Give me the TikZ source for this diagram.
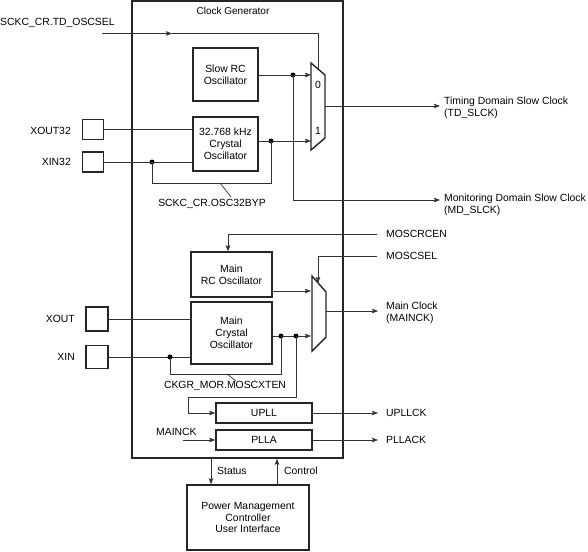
\documentclass[tikz,border=0pt]{standalone}
\usepackage{fontspec}
\setmainfont{Liberation Sans}
\usetikzlibrary{arrows.meta}
\newcommand\dfont{\fontsize{10.4}{12}\selectfont}
\begin{document}
\begin{tikzpicture}[x=1pt,y=-1pt,
  box/.style={draw=black!85,line width=1.4pt,inner sep=0pt,align=center,font=\dfont},
  pad/.style={draw=black!85,line width=1.4pt,inner sep=0pt},
  lbl/.style={inner sep=0pt,font=\dfont,align=left},
  wire/.style={draw=black!80,line width=0.7pt},
  arr/.style={wire,-{Stealth[length=6pt,width=4.5pt,inset=1pt]}},
  dot/.style={circle,fill=black,inner sep=0pt,minimum size=5pt}]
\useasboundingbox (0,0) rectangle (588,551);

% Clock generator frame
\node[box,minimum width=211pt,minimum height=457pt] (cg) at (237.5,229.5) {};
\node[lbl,font=\fontsize{10}{12}\selectfont] (cgt) at (233,11) {Clock Generator};

% slow part
\node[box,minimum width=65pt,minimum height=53pt] (src) at (225.5,74.5) {Slow RC\\Oscillator};
\node[box,minimum width=65pt,minimum height=54pt] (c32) at (225.5,144) {32.768 kHz\\Crystal\\Oscillator};
\node[pad,minimum width=21pt,minimum height=20pt] (x32o) at (93,129.5) {};
\node[pad,minimum width=21pt,minimum height=20pt] (x32i) at (93,162) {};
\node[lbl,anchor=east] (lx32o) at (71,131) {XOUT32};
\node[lbl,anchor=east] (lx32i) at (71,162) {XIN32};

% mux 1
\draw[draw=black!85,line width=1.4pt] (311,63) -- (325,75) -- (325,138) -- (311,150) -- cycle;
\node[lbl] (m1z) at (318,85) {0};
\node[lbl] (m1o) at (318,131) {1};
\coordinate (m1in0) at (311,75);
\coordinate (m1in1) at (311,141);
\coordinate (m1sel) at (318,69);
\coordinate (m1out) at (325,106);

\node[lbl,anchor=west] (ltd) at (0,23) {SCKC\_CR.TD\_OSCSEL};
\coordinate (tdstart) at (102,33.5);
\coordinate (tdmid) at (172,33.5);
\coordinate (tdcorner) at (318,33.5);
\draw[arr] (tdstart) -- (tdmid);
\draw[wire] (tdmid) -- (tdcorner) -- (m1sel);

\node[dot] (d3) at (293,75) {};
\node[dot] (d2) at (271,141) {};
\node[dot] (d1) at (152,162) {};
\draw[wire] (x32o.east) -- (c32.west |- x32o.east);
\draw[wire] (x32i.east) -- (c32.west |- x32i.east);
\draw[arr] (src.east |- m1in0) -- (m1in0);
\draw[arr] (c32.east |- m1in1) -- (m1in1);
\draw[wire] (d1.center) -- ++(0,21) -| (d2.center);
\coordinate (byp) at (220,183);
\node[lbl] (lbyp) at (212,204) {SCKC\_CR.OSC32BYP};
\draw[wire] (byp) -- (231,197);

\coordinate (tdend) at (440,106);
\draw[arr] (m1out) -- (tdend);
\node[lbl,anchor=west] (ltdo) at (444,107.5) {Timing Domain Slow Clock\\(TD\_SLCK)};
\coordinate (mdend) at (440,200);
\draw[arr] (d3.center) |- (mdend);
\node[lbl,anchor=west] (lmd) at (444,204.5) {Monitoring Domain Slow Clock\\(MD\_SLCK)};

% main part
\node[box,minimum width=81pt,minimum height=45pt] (mrc) at (231.5,274.5) {Main\\RC Oscillator};
\node[box,minimum width=81pt,minimum height=62pt] (mxo) at (231.5,333) {Main\\Crystal\\Oscillator};
\node[pad,minimum width=22pt,minimum height=24pt] (xo) at (97,319) {};
\node[pad,minimum width=22pt,minimum height=23pt] (xi) at (97,357) {};
\node[lbl,anchor=east] (lxo) at (75,319) {XOUT};
\node[lbl,anchor=east] (lxi) at (75,357) {XIN};

\draw[draw=black!85,line width=1.4pt] (312,276) -- (326,292) -- (326,337) -- (312,351) -- cycle;
\coordinate (m2in0) at (311,291);
\coordinate (m2in1) at (311,336);
\coordinate (m2sel) at (318,283);
\coordinate (m2out) at (326,311);

\node[lbl,anchor=west] (lrcen) at (386,234) {MOSCRCEN};
\coordinate (rcenstart) at (377,234);
\coordinate (rcencorner) at (228,234);
\draw[arr] (rcenstart) -- (rcencorner) -- (mrc.north -| rcencorner);
\node[lbl,anchor=west] (lsel) at (386,256) {MOSCSEL};
\coordinate (selstart) at (377,256);
\draw[arr] (selstart) -| (m2sel);

\draw[wire] (xo.east) -- (mxo.west |- xo.east);
\draw[wire] (xi.east) -- (mxo.west |- xi.east);
\draw[arr] (mrc.east |- m2in0) -- (m2in0);
\draw[arr] (mxo.east |- m2in1) -- (m2in1);
\node[dot] (d4) at (170,357) {};
\node[dot] (d5) at (281,336) {};
\node[dot] (d6) at (296,336) {};
\draw[wire] (d4.center) -- ++(0,17) -| (d5.center);
\coordinate (xten) at (227,374);
\draw[wire] (xten) -- (236,381);
\node[lbl] (lxten) at (225,386) {CKGR\_MOR.MOSCXTEN};

\coordinate (mcend) at (378,311);
\draw[arr] (m2out) -- (mcend);
\node[lbl,anchor=west] (lmc) at (386,313) {Main Clock\\(MAINCK)};

% PLLs
\node[box,minimum width=96pt,minimum height=20pt] (upll) at (264,413) {UPLL};
\node[box,minimum width=96pt,minimum height=20pt] (plla) at (264,440) {PLLA};
\coordinate (uc1) at (296,397);
\coordinate (uc2) at (188,413);
\draw[arr] (d6.center) -- (uc1) -| (uc2) -- (upll.west);
\node[lbl,anchor=west] (lmainck) at (156,432) {MAINCK};
\coordinate (mainckstart) at (183,440);
\draw[arr] (mainckstart) -- (plla.west);
\coordinate (upllend) at (378,413);
\coordinate (pllaend) at (378,440);
\draw[arr] (upll.east) -- (upllend);
\draw[arr] (plla.east) -- (pllaend);
\node[lbl,anchor=west] (lupll) at (386,413) {UPLLCK};
\node[lbl,anchor=west] (lplla) at (386,440) {PLLACK};

% PMC
\node[box,minimum width=122pt,minimum height=65pt,font=\fontsize{10.4}{11.5}\selectfont] (pmc) at (248,517.5) {Power Management\\Controller\\User Interface};
\draw[arr] (cg.south -| 211,0) -- (pmc.north -| 211,0);
\draw[arr] (pmc.north -| 277,0) -- (cg.south -| 277,0);
\node[lbl,anchor=west] (lstat) at (217,471) {Status};
\node[lbl,anchor=west] (lctrl) at (284,471) {Control};
\end{tikzpicture}
\end{document}
